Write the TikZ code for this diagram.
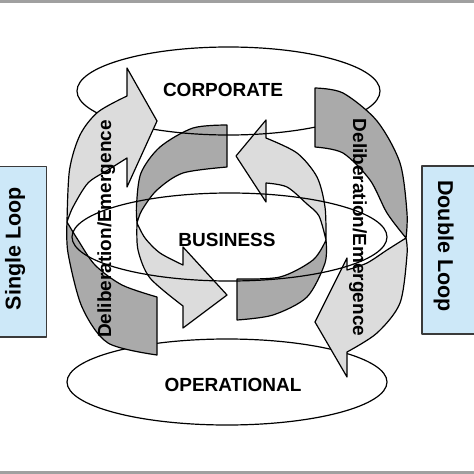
\documentclass[tikz,border=0pt]{standalone}
\usepackage{fontspec}
\setmainfont{Liberation Sans}
\definecolor{lgray}{HTML}{DCDCDC}
\definecolor{dgray}{HTML}{AAAAAA}
\definecolor{lblue}{HTML}{CDE8F8}
\definecolor{boxgray}{HTML}{3A3A3A}
\definecolor{bargray}{HTML}{A0A0A0}
\begin{document}
\begin{tikzpicture}[x=1pt,y=-1pt,line width=1.2pt,line join=round,
  lt/.style={fill=lgray,draw=black},
  dk/.style={fill=dgray,draw=black},
  ell/.style={draw=black},
  lbl/.style={font=\fontsize{19}{20}\selectfont\bfseries,inner sep=0pt,anchor=base},
  sidelbl/.style={font=\fontsize{21.5}{22}\selectfont\bfseries,inner sep=0pt,anchor=base},
  loopbox/.style={fill=lblue,draw=boxgray,line width=1.3pt}]
\useasboundingbox (0,0) rectangle (474,474);
% frame bars
\fill[bargray] (0,0) rectangle (474,2.5);
\fill[bargray] (0,471) rectangle (474,474);
% side boxes
\path[loopbox] (-3,166.5) rectangle (46.5,337);
\path[loopbox] (422,166) rectangle (478,334);
% inner ring: left arrow
\path[dk] plot[smooth] coordinates {(227,125) (193,128) (160,147) (141,173) (136.5,205) (137,223)}
  -- plot[smooth] coordinates {(137,223) (142,210) (157,190) (183,173) (227,167)} -- cycle;
\path[lt] plot[smooth] coordinates {(137,223) (138,250) (150,278) (183,306)}
  -- (183,328) -- (227,295) -- (183,247) -- (183,265)
  -- plot[smooth] coordinates {(183,265) (160,253) (145,238) (137,223)} -- cycle;
% inner ring: right arrow
\path[lt] (236,156) -- (266,120) -- (266,138)
  -- plot[smooth] coordinates {(266,138) (297,153) (317,177) (325,207) (326,240)}
  -- plot[smooth] coordinates {(326,240) (319,216) (307,204) (287,187) (266,183)}
  -- (266,202) -- cycle;
\path[dk] plot[smooth] coordinates {(326,240) (325,263) (307,297) (273,315) (237,320)}
  -- (237,279)
  -- plot[smooth] coordinates {(237,279) (280,277) (313,260) (326,240)} -- cycle;
% corporate and operational levels
\draw[ell] (228.5,91) ellipse [x radius=151.5pt,y radius=44pt];
\draw[ell] (227,382) ellipse [x radius=160pt,y radius=43pt];
% outer left ring
\path[lt] plot[smooth] coordinates {(67,222) (69.5,170) (80,135) (98,112) (127,96)}
  -- (127,68) -- (157,121) -- (127,187) -- (127,158)
  -- plot[smooth] coordinates {(127,158) (108,170) (88,183) (73,207) (67,222)} -- cycle;
\path[dk] plot[smooth] coordinates {(67,222) (68,253) (82,307) (108,343) (157,355)}
  -- (157,297)
  -- plot[smooth] coordinates {(157,297) (122,285) (95,265) (78,240) (67,222)} -- cycle;
% outer right ring
\path[dk] plot[smooth] coordinates {(315,88) (343,93) (377,121) (400,163) (407,213) (406,238)}
  -- plot[smooth] coordinates {(406,238) (387,213) (370,180) (343,153) (315,147)} -- cycle;
\path[lt] plot[smooth] coordinates {(406,238) (407,255) (400,303) (377,333) (347,352)}
  -- (347,377) -- (315,322) -- (347,258) -- (347,270)
  -- plot[smooth] coordinates {(347,270) (367,263) (387,250) (406,238)} -- cycle;
% business level
\draw[ell] (229.5,237) ellipse [x radius=157.5pt,y radius=44pt];
% labels
\node[lbl] (corp) at (223,96.5) {CORPORATE};
\node[lbl] (bus) at (227,246.5) {BUSINESS};
\node[lbl] (oper) at (233,391.5) {OPERATIONAL};
\node[lbl,rotate=90] (delL) at (111,229) {Deliberation/Emergence};
\node[lbl,rotate=-90] (delR) at (353,227.5) {Deliberation/Emergence};
\node[sidelbl,rotate=90] (single) at (20.5,248.5) {Single Loop};
\node[sidelbl,rotate=-90] (double) at (438,246) {Double Loop};
\end{tikzpicture}
\end{document}
